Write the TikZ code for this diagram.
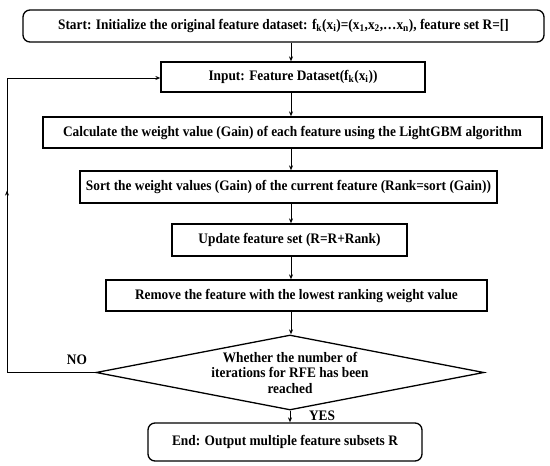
\documentclass[tikz,border=0pt]{standalone}
\usepackage{fontspec}
\setmainfont{Liberation Serif}[FakeStretch=0.92]
\usetikzlibrary{arrows.meta,shapes.geometric,decorations.markings}
\begin{document}
\begin{tikzpicture}[x=1pt,y=-1pt,
  font=\fontsize{14.5}{16.5}\selectfont\bfseries,
  box/.style={draw,line width=1.3pt,inner sep=0pt,align=center},
  rbox/.style={box,rounded corners=7pt},
  arr/.style={line width=1pt,-{Stealth[length=5pt,width=4pt]}},
  lbl/.style={inner sep=0pt}]
\useasboundingbox (0,0) rectangle (550,466);
\node[rbox,minimum width=521pt,minimum height=32pt] (start) at (283.5,26)
  {Start: Initialize the original feature dataset: f\textsubscript{k}(x\textsubscript{i})=(x\textsubscript{1},x\textsubscript{2},…x\textsubscript{n}), feature set R=[]};
\node[box,minimum width=264pt,minimum height=30pt] (input) at (293,77)
  {Input: Feature Dataset(f\textsubscript{k}(x\textsubscript{i}))};
\node[box,minimum width=499pt,minimum height=31pt] (calc) at (292.5,132.5)
  {Calculate the weight value (Gain) of each feature using the LightGBM algorithm};
\node[box,minimum width=417pt,minimum height=32pt] (sort) at (288.5,187)
  {Sort the weight values (Gain) of the current feature (Rank=sort (Gain))};
\node[box,minimum width=235pt,minimum height=32pt] (update) at (289.5,240)
  {Update feature set (R=R+Rank)};
\node[box,minimum width=381pt,minimum height=31pt] (remove) at (296.5,295.5)
  {Remove the feature with the lowest ranking weight value};
\node[diamond,draw,line width=1.3pt,inner sep=0pt,aspect=5.17,minimum width=388pt,minimum height=75pt,align=center] (dia) at (290,372.5)
  {Whether the number of\\[-1pt]iterations for RFE has been\\[-1pt]reached};
\node[rbox,minimum width=274pt,minimum height=38pt] (end) at (285,442)
  {End: Output multiple feature subsets R};
\coordinate (spine) at (291,0);
\coordinate (c1) at (7,372.5);
\coordinate (c2) at (7,78);
\draw[arr] (start.south -| spine) -- (input.north -| spine);
\draw[arr] (input.south -| spine) -- (calc.north -| spine);
\draw[arr] (calc.south -| spine) -- (sort.north -| spine);
\draw[arr] (sort.south -| spine) -- (update.north -| spine);
\draw[arr] (update.south -| spine) -- (remove.north -| spine);
\draw[arr] (remove.south -| spine) -- (dia.north -| spine);
\draw[arr] (dia.south) -- (end.north -| dia.south);
\draw[arr,postaction={decorate},decoration={markings,mark=at position 0.504 with {\arrow{Stealth[length=5pt,width=4pt]}}}]
  (dia.west) -- (c1) -- (c2) -- (input.west |- c2);
\node[lbl] (no) at (77,360) {NO};
\node[lbl] (yes) at (322,416) {YES};
\end{tikzpicture}
\end{document}
